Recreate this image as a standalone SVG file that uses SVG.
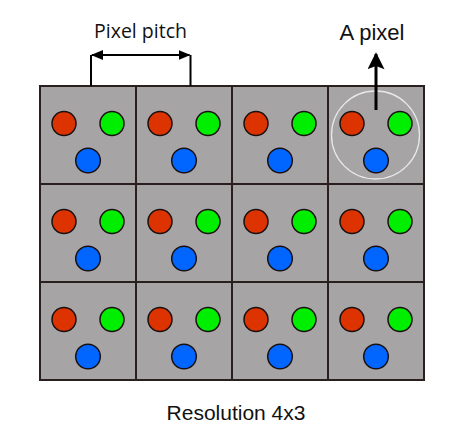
<svg xmlns="http://www.w3.org/2000/svg" width="474" height="443" viewBox="0 0 474 443">
<style>
.cell{fill:#a6a4a5;stroke:#2a1f1f;stroke-width:2}
.r{fill:#dd3300;stroke:#1a1010;stroke-width:1.5}
.g{fill:#00ee00;stroke:#1a1010;stroke-width:1.5}
.b{fill:#0066ff;stroke:#1a1010;stroke-width:1.5}
.t{font-family:"Liberation Sans",Arial,sans-serif;fill:#111}
.c{stroke:#000;stroke-width:2;fill:none}
</style>
<defs>
<g id="px">
<rect class="cell" x="0" y="0" width="96" height="98"/>
<circle class="r" cx="24" cy="37.5" r="12"/>
<circle class="g" cx="72" cy="37.5" r="12"/>
<circle class="b" cx="48" cy="74.5" r="12.3"/>
</g>
<marker id="ah" viewBox="0 0 12 10" refX="11" refY="5" markerWidth="12" markerHeight="10" markerUnits="userSpaceOnUse" orient="auto-start-reverse">
<path d="M0,0 L12,5 L0,10 z" fill="#000"/>
</marker>
<marker id="ah2" viewBox="0 0 10 10" refX="9" refY="5" markerWidth="19" markerHeight="17" markerUnits="userSpaceOnUse" orient="auto">
<path d="M0,0 L10,5 L0,10 L2,5 z" fill="#000"/>
</marker>
</defs>
<g id="row1">
<use href="#px" x="40" y="86"/><use href="#px" x="136" y="86"/><use href="#px" x="232" y="86"/><use href="#px" x="328" y="86"/>
</g>
<g id="row2">
<use href="#px" x="40" y="184"/><use href="#px" x="136" y="184"/><use href="#px" x="232" y="184"/><use href="#px" x="328" y="184"/>
</g>
<g id="row3">
<use href="#px" x="40" y="282"/><use href="#px" x="136" y="282"/><use href="#px" x="232" y="282"/><use href="#px" x="328" y="282"/>
</g>
<g id="pixel-highlight">
<circle cx="375.5" cy="135" r="44" fill="none" stroke="#e8e8e8" stroke-width="1.3"/>
</g>
<g id="connectors">
<path class="c" d="M91,86 V55 M190.5,86 V55"/>
<line class="c" x1="92" y1="55" x2="189.5" y2="55" marker-start="url(#ah)" marker-end="url(#ah)"/>
<line x1="376" y1="110" x2="376" y2="54" stroke="#000" stroke-width="3" marker-end="url(#ah2)"/>
</g>
<g id="labels">
<text class="t" x="140.5" y="37.5" font-size="19.5" text-anchor="middle" style="font-family:'Open Sans','Liberation Sans',sans-serif">Pixel pitch</text>
<text class="t" x="372" y="40.3" font-size="22" text-anchor="middle">A pixel</text>
<text class="t" x="236" y="419.5" font-size="21" text-anchor="middle">Resolution 4x3</text>
</g>
</svg>
